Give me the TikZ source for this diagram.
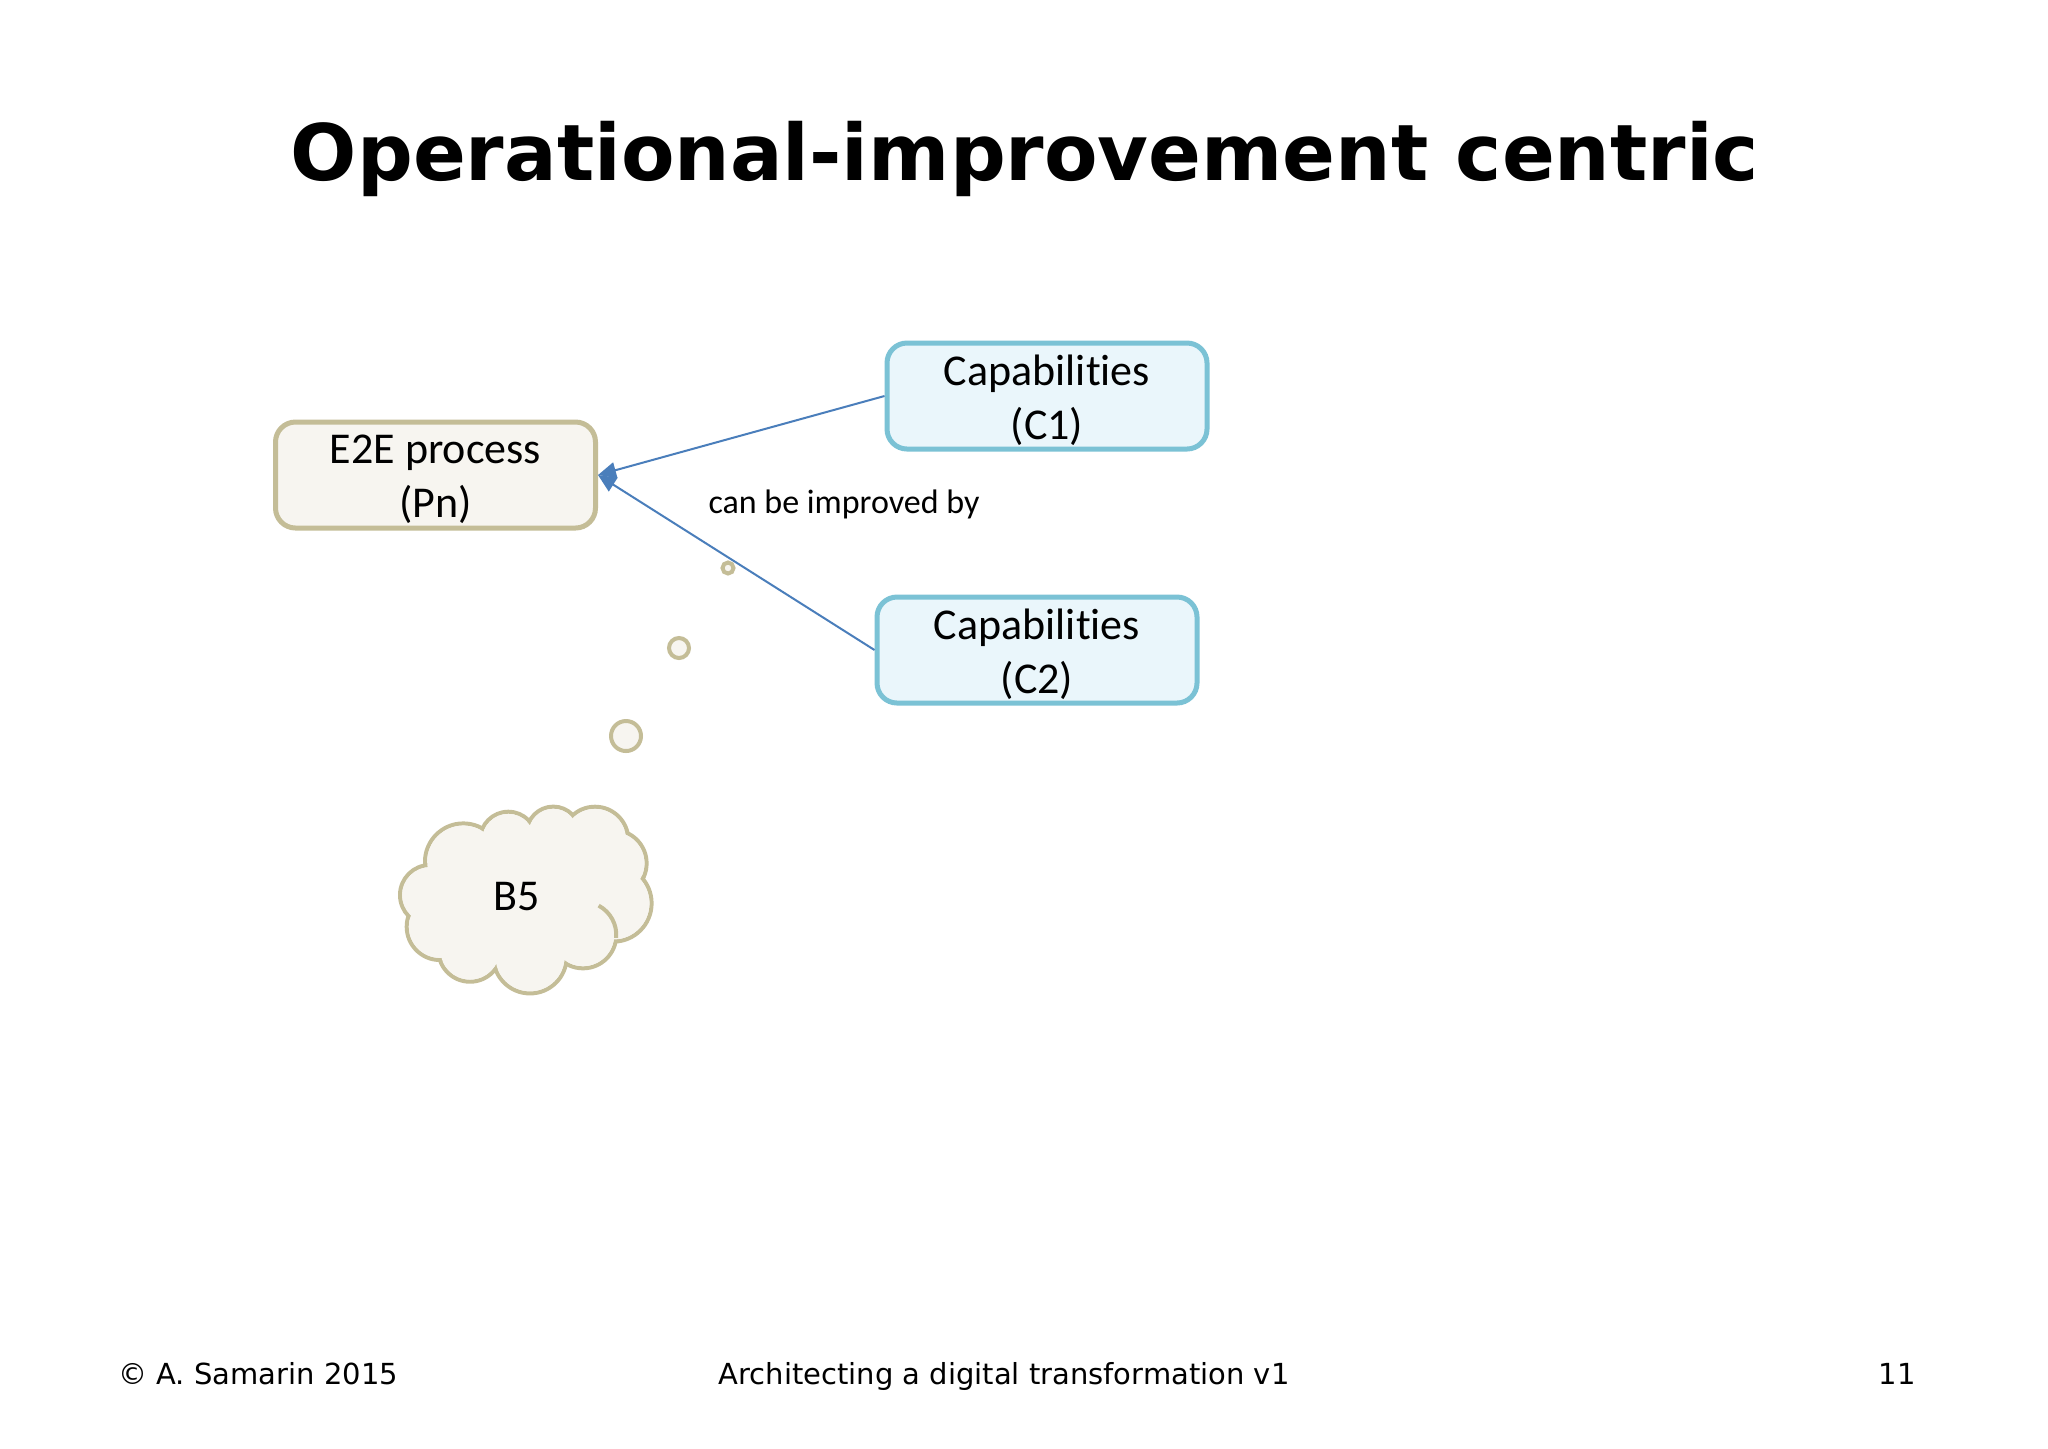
\documentclass[tikz,border=0pt]{standalone}
\usepackage{fontspec}
\setmainfont{Carlito}[Ligatures=NoCommon]
\newfontfamily\titlefont{DejaVu Sans}
\usetikzlibrary{arrows.meta}
\definecolor{tanline}{HTML}{C4BD97}
\definecolor{tanfill}{HTML}{F7F5F0}
\definecolor{aqualine}{HTML}{7BC2D5}
\definecolor{aquafill}{HTML}{EAF6FB}
\definecolor{arrowblue}{HTML}{4A7EBB}
\tikzset{
  boxtext/.style={font=\fontsize{22}{27}\selectfont, align=center, yshift=-2pt, inner sep=0pt},
  procbox/.style={draw=tanline, fill=tanfill, line width=2.5pt, rounded corners=10pt,
    minimum width=160pt, minimum height=53pt, inner sep=0pt},
  capbox/.style={draw=aqualine, fill=aquafill, line width=2.5pt, rounded corners=10pt,
    minimum width=160pt, minimum height=53pt, inner sep=0pt},
  bubble/.style={draw=tanline, fill=tanfill, line width=2pt, circle, inner sep=0pt},
  link/.style={draw=arrowblue, line width=1pt, -{Triangle[length=9pt,width=8pt]}},
  foot/.style={font=\titlefont\fontsize{14.5}{17}\selectfont, inner sep=0pt},
  puffline/.style={draw=tanline, fill=tanfill, line width=2pt},
}
\begin{document}
\begin{tikzpicture}[x=0.5pt,y=-0.5pt]
\useasboundingbox (0,0) rectangle (2048,1448);
\fill[white] (0,0) rectangle (2048,1448);
\node[font=\titlefont\bfseries\fontsize{39}{45}\selectfont, anchor=base, inner sep=0pt] (title) at (1025,180) {Operational-improvement centric};
\node[procbox, label={[boxtext]center:E2E process\\(Pn)}] (pn) at (435.5,475) {};
\node[capbox, label={[boxtext]center:Capabilities\\(C1)}] (c1) at (1047,396) {};
\node[capbox, label={[boxtext]center:Capabilities\\(C2)}] (c2) at (1037,650) {};
\draw[link] (c1.west) -- (pn.east);
\draw[link] (c2.west) -- (pn.east);
\node[font=\fontsize{17}{20}\selectfont, inner sep=0pt] (lbl) at (844,504) {can be improved by};
\node[bubble, minimum size=5.5pt] (b1) at (728,568) {};
\node[bubble, minimum size=10pt] (b2) at (679,648) {};
\node[bubble, minimum size=15pt] (b3) at (626,736) {};
% cloud: union of puffs
\def\puffs{463.3/861.7/38.3, 508.3/840/28.3, 553.3/833.3/26.7, 595/840/33.3,
  613.3/863.3/33.3, 613.3/903.3/38.3, 583/935/33.3, 530/956.7/36.7,
  470/950/31.7, 440/926.7/33.3, 430/895/30}
\foreach \cx/\cy/\r in \puffs { \path[puffline] (\cx,\cy) circle (\r); }
\foreach \cx/\cy/\r in \puffs { \fill[tanfill] (\cx,\cy) circle (\r-2.2); }
\fill[tanfill] (463.3,861.7) -- (508.3,840) -- (553.3,833.3) -- (595,840) -- (613.3,863.3)
  -- (613.3,903.3) -- (583,935) -- (530,956.7) -- (470,950) -- (440,926.7) -- (430,895) -- cycle;
\draw[tanline, line width=2pt] (583,935) ++(-62:33.3) arc[start angle=-62, end angle=5, radius=33.3];
\node[font=\fontsize{22}{27}\selectfont, inner sep=0pt] (b5) at (517,897) {B5};
\node[foot, anchor=base west] (copy) at (118,1384) {© A. Samarin 2015};
\node[foot, anchor=base] (course) at (1004,1384) {Architecting a digital transformation v1};
\node[foot, anchor=base east] (page) at (1916,1384) {11};
\end{tikzpicture}
\end{document}
